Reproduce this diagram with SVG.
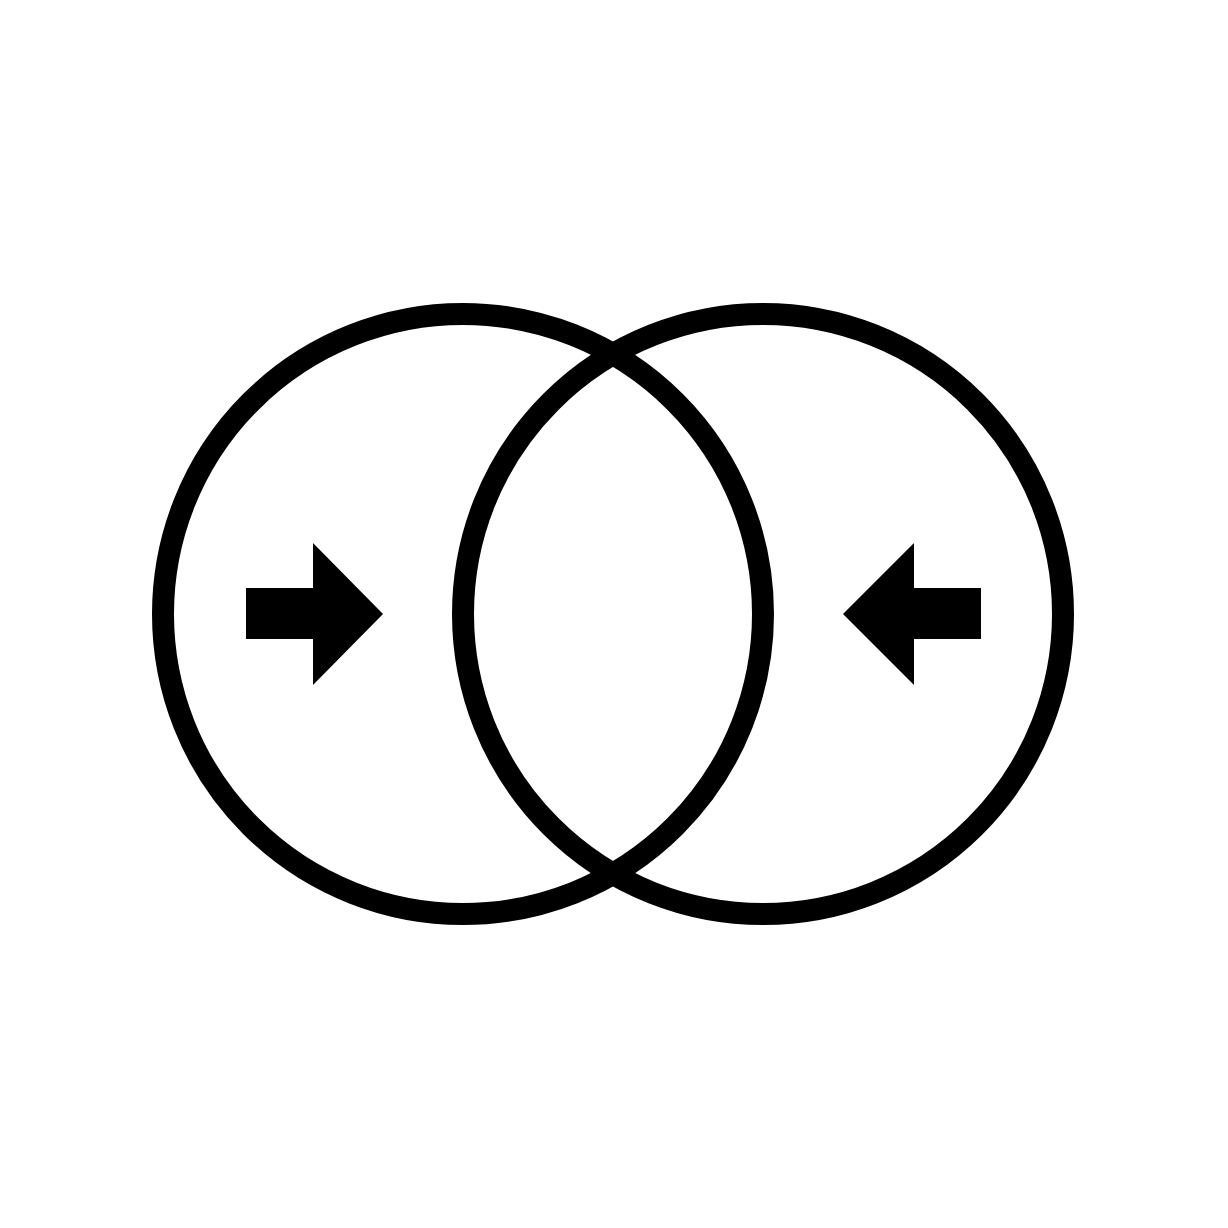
<svg xmlns="http://www.w3.org/2000/svg" width="1228" height="1228" viewBox="0 0 1228 1228">
  <style>
    .ring { fill: none; stroke: #000; stroke-width: 22; }
    .arrow { fill: #000; stroke: none; }
  </style>
  <rect x="0" y="0" width="1228" height="1228" fill="#fff"/>
  <g id="circle-left">
    <circle class="ring" cx="463" cy="614" r="300"/>
  </g>
  <g id="circle-right">
    <circle class="ring" cx="763" cy="614" r="300"/>
  </g>
  <g id="connectors">
    <path id="arrow-left" class="arrow" d="M246,588 H313 V543 L383,614 L313,685 V639 H246 Z"/>
    <path id="arrow-right" class="arrow" d="M981,588 H914 V543 L843,614 L914,685 V639 H981 Z"/>
  </g>
</svg>
